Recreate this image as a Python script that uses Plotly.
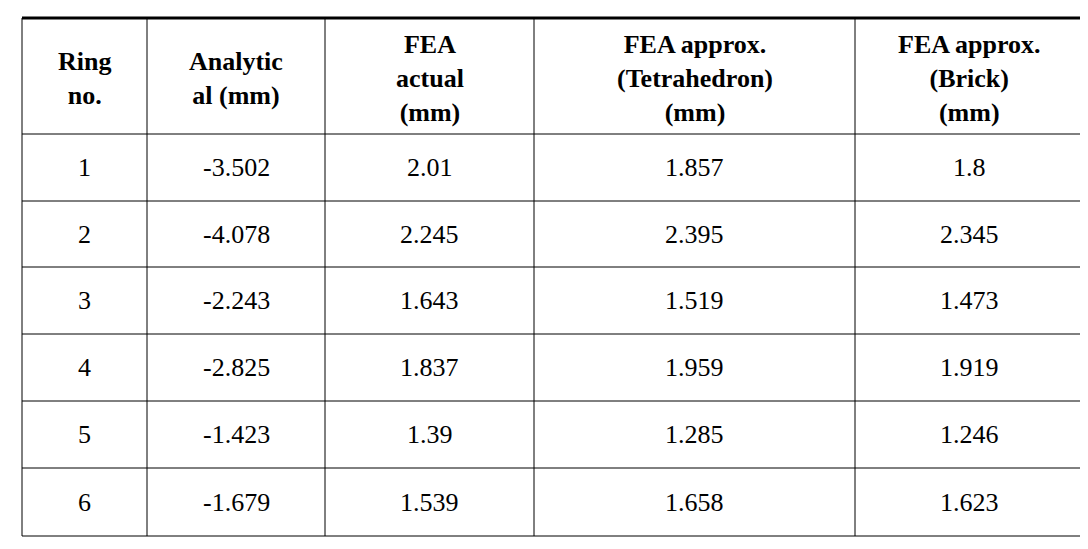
import plotly.graph_objects as go

headers = ["<b>Ring<br>no.</b>", "<b>Analytic<br>al (mm)</b>", "<b>FEA<br>actual<br>(mm)</b>",
           "<b>FEA approx.<br>(Tetrahedron)<br>(mm)</b>", "<b>FEA approx.<br>(Brick)<br>(mm)</b>"]
ring = ["1", "2", "3", "4", "5", "6"]
analytical = ["-3.502", "-4.078", "-2.243", "-2.825", "-1.423", "-1.679"]
fea_actual = ["2.01", "2.245", "1.643", "1.837", "1.39", "1.539"]
fea_tetra = ["1.857", "2.395", "1.519", "1.959", "1.285", "1.658"]
fea_brick = ["1.8", "2.345", "1.473", "1.919", "1.246", "1.623"]
columns = [ring, analytical, fea_actual, fea_tetra, fea_brick]

W, H = 1088, 549
col_edges = [14, 139, 317, 526, 847, 1076]
row_edges = [10, 126, 193, 259, 326, 393, 460, 528]
font = dict(family="Liberation Serif", size=26, color="black")

fig = go.Figure()
shapes = []
for x in col_edges:
    shapes.append(dict(type="line", x0=x, x1=x, y0=row_edges[0], y1=row_edges[-1],
                       xref="x", yref="y", line=dict(color="black", width=1)))
for i, y in enumerate(row_edges):
    shapes.append(dict(type="line", x0=col_edges[0], x1=col_edges[-1], y0=y, y1=y,
                       xref="x", yref="y", line=dict(color="black", width=3 if i == 0 else 1)))
ann = []
for c in range(5):
    xc = (col_edges[c] + col_edges[c + 1]) / 2
    ann.append(dict(x=xc, y=(row_edges[0] + row_edges[1]) / 2 + 2, text=headers[c],
                    showarrow=False, font=font, align="center", xref="x", yref="y"))
    for r, v in enumerate(columns[c]):
        ann.append(dict(x=xc, y=(row_edges[r + 1] + row_edges[r + 2]) / 2, text=v,
                        showarrow=False, font=font, align="center", xref="x", yref="y"))
fig.update_layout(width=W, height=H, margin=dict(l=0, r=0, t=0, b=0),
                  paper_bgcolor="white", plot_bgcolor="white",
                  shapes=shapes, annotations=ann, showlegend=False,
                  xaxis=dict(range=[0, W], visible=False, fixedrange=True),
                  yaxis=dict(range=[H, 0], visible=False, fixedrange=True))
fig.write_html("out.html")
